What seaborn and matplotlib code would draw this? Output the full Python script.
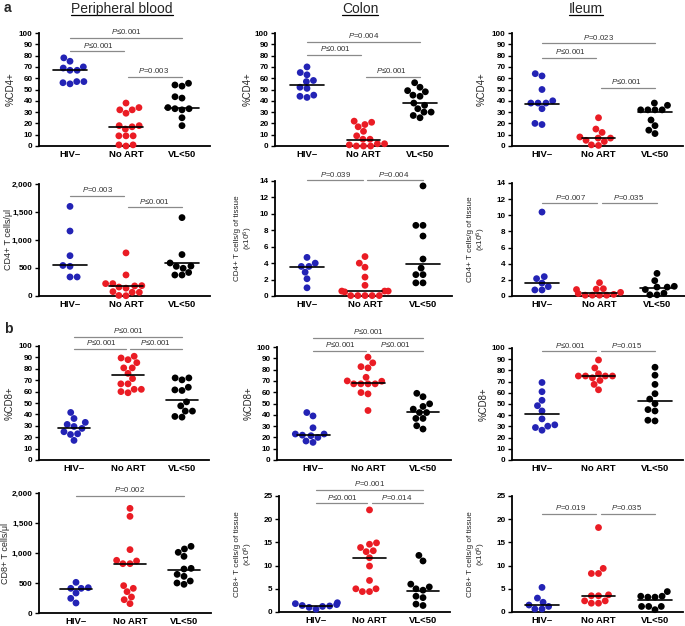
import numpy as np
import pandas as pd
import matplotlib
matplotlib.use("Agg")
import matplotlib.pyplot as plt
import seaborn as sns

# ---------------- data ----------------
groups = ["HIV–", "No ART", "VL<50"]
palette = {"HIV–": "#2323b5", "No ART": "#ea1c24", "VL<50": "#000000"}

cd4_pct_pb = [[78, 75, 70, 67, 67, 69, 57, 55, 56, 57],
              [38, 34, 32, 32, 29, 18, 18, 15, 17, 9, 9, 9, 1, 0, 1],
              [55.5, 53, 54, 43.6, 42.4, 33, 34, 33, 32, 25, 18]]
cd4_pct_pb_med = [67, 17, 34]
cd4_pct_colon = [[70, 65, 63, 58, 57, 52, 51, 45, 43, 44],
                 [21, 22, 17, 19, 13, 9, 6, 6, 2, 2, 1, 0, 0, 0],
                 [56, 52, 49, 48, 45, 44, 38, 36, 33, 30, 30, 27, 25]]
cd4_pct_colon_med = [54.3, 5.6, 38.3]
cd4_pct_ileum = [[64, 62, 50, 40, 38, 38, 38, 33, 20, 19],
                 [25, 15, 12, 8, 7, 7, 5, 4, 1, 0.5],
                 [38, 36, 32, 32, 32, 32, 23, 18, 14, 11]]
cd4_pct_ileum_med = [37.4, 6.8, 30]

cd4_abs_pb = [[1600, 1160, 720, 545, 530, 340, 340],
              [770, 376, 221, 221, 185, 180, 160, 140, 78, 66, 66, 10, 5],
              [1400, 740, 590, 530, 535, 495, 420, 375, 375]]
cd4_abs_pb_med = [558, 173, 595]
cd4_abs_colon = [[4.7, 4.0, 3.6, 3.6, 2.9, 2.1, 1.0],
                 [4.8, 4.0, 3.5, 2.3, 1.3, 0.6, 0.6, 0.6, 0.5, 0.05, 0.05, 0.05, 0.05, 0.05],
                 [13.4, 8.6, 8.6, 7.3, 4.5, 3.4, 2.6, 2.6, 1.6, 1.6]]
cd4_abs_colon_med = [3.55, 0.6, 3.9]
cd4_abs_ileum = [[10.4, 2.4, 2.15, 1.6, 1.16, 0.75, 0.75],
                 [1.65, 0.9, 0.85, 0.8, 0.45, 0.3, 0.2, 0.1, 0.1, 0.1, 0.1],
                 [2.8, 1.9, 1.2, 1.1, 1.1, 0.8, 0.35, 0.15, 0.15]]
cd4_abs_ileum_med = [1.6, 0.33, 1.04]

cd8_pct_pb = [[41.7, 36.4, 33, 29.4, 31.2, 27.7, 24.8, 23, 22.4, 17.2],
              [91, 89.5, 88, 85.4, 80.8, 80.8, 76, 71.4, 66.8, 66.8, 62, 62, 59, 60],
              [72, 72, 70.3, 63.8, 61.5, 61, 51, 47.5, 42.9, 42.9, 37.6, 38.2]]
cd8_pct_pb_med = [28.3, 74.3, 52.2]
cd8_pct_colon = [[42, 39, 28.5, 23, 22, 23, 21.5, 20, 15.6, 16.8],
                 [91, 86, 81.5, 82.6, 73.2, 70, 69.7, 67.4, 67.4, 67.4, 67.4, 59.7, 58.5, 43.8],
                 [59, 56, 49.7, 47.4, 45, 42, 42, 36.8, 36.8, 30.3, 27.4]]
cd8_pct_colon_med = [22, 68.2, 42.6]
cd8_pct_ileum = [[69.2, 61, 53.3, 48.5, 43.8, 36.7, 30.2, 31.4, 29, 26.6],
                 [89.3, 82.2, 77, 75, 75, 75, 75, 73.4, 71, 67.5, 62.7],
                 [82.8, 75.7, 67.5, 59.2, 54.4, 50.3, 45, 43.8, 35.5, 34.9]]
cd8_pct_ileum_med = [41.1, 75, 52.7]

cd8_abs_pb = [[511, 422, 411, 411, 333, 244, 167],
              [1744, 1611, 1056, 867, 878, 822, 822, 456, 411, 356, 267, 222, 156],
              [1111, 1067, 1011, 944, 744, 733, 644, 611, 533, 500, 478]]
cd8_abs_pb_med = [405, 822, 711]
cd8_abs_colon = [[2.0, 1.8, 1.6, 1.4, 1.3, 1.2, 1.0, 0.6],
                 [22, 14.9, 14.6, 13.9, 13.2, 13, 11.7, 9.9, 6.8, 5, 5, 4.4, 4.4],
                 [12.2, 11, 6, 5.4, 5, 4.7, 3.4, 3.1, 1.7, 1.4]]
cd8_abs_colon_med = [1.3, 11.74, 4.5]
cd8_abs_ileum = [[5.3, 3.0, 2.1, 1.5, 1.2, 0.65, 0.65],
                 [18.2, 9.4, 8.3, 8.3, 3.7, 3.5, 3.5, 2.4, 2.4, 1.9, 1.9],
                 [4.4, 3.4, 3.4, 3.2, 3.2, 1.2, 1.2, 1.2, 0.5]]
cd8_abs_ileum_med = [1.5, 3.5, 2.67]

# significance brackets: (group i, group j, height, label)
sig_cd4_pct_pb = [(0, 2, 96, "≤0.001"), (0, 1, 83.7, "≤0.001"), (1, 2, 61, "=0.003")]
sig_cd4_pct_colon = [(0, 2, 92, "=0.004"), (0, 1, 80.4, "≤0.001"), (1, 2, 61, "≤0.001")]
sig_cd4_pct_ileum = [(0, 2, 90.8, "=0.023"), (0, 1, 78, "≤0.001"), (1, 2, 51.6, "≤0.001")]
sig_cd4_abs_pb = [(0, 1, 1791, "=0.003"), (1, 2, 1582, "≤0.001")]
sig_cd4_abs_colon = [(0, 1, 14.1, "=0.039"), (1, 2, 14.1, "=0.004")]
sig_cd4_abs_ileum = [(0, 1, 11.5, "=0.007"), (1, 2, 11.5, "=0.035")]
sig_cd8_pct_pb = [(0, 2, 108, "≤0.001"), (0, 1, 97.7, "≤0.001"), (1, 2, 97.7, "≤0.001")]
sig_cd8_pct_colon = [(0, 2, 108, "≤0.001"), (0, 1, 96.8, "≤0.001"), (1, 2, 96.8, "≤0.001")]
sig_cd8_pct_ileum = [(0, 1, 97, "≤0.001"), (1, 2, 97, "=0.015")]
sig_cd8_abs_pb = [(0, 2, 1956, "=0.002")]
sig_cd8_abs_colon = [(0, 2, 26.4, "=0.001"), (0, 1, 23.4, "≤0.001"), (1, 2, 23.4, "=0.014")]
sig_cd8_abs_ileum = [(0, 1, 21.1, "=0.019"), (1, 2, 21.1, "=0.035")]

ylab_cd4_pct = "%CD4+"
ylab_cd4_abs = "CD4+ T cells/μl"
ylab_cd4_tis = "CD4+ T cells/g of tissue\n(x10$^{6}$)"
ylab_cd8_pct = "%CD8+"
ylab_cd8_abs = "CD8+ T cells/μl"
ylab_cd8_tis = "CD8+ T cells/g of tissue\n(x10$^{6}$)"
titles = ["Peripheral blood", "Colon", "Ileum"]

# ---------------- style ----------------
sns.set_theme(style="ticks")
plt.rcParams["font.family"] = ["Liberation Sans", "DejaVu Sans"]
plt.rcParams["mathtext.fontset"] = "custom"
plt.rcParams["mathtext.it"] = "Liberation Sans:italic"
plt.rcParams["mathtext.rm"] = "Liberation Sans"
plt.rcParams["mathtext.bf"] = "Liberation Sans:bold"

W, H = 685, 626
fig = plt.figure(figsize=(W / 100, H / 100), dpi=100)

# (data, medians, sigs, ylabel, label size, label right edge px, ymax, ystep, comma,
#  axis_left_px, hiv_px, vl_px, y0_px, ytop_px)
panels = [
    (cd4_pct_pb, cd4_pct_pb_med, sig_cd4_pct_pb, ylab_cd4_pct, 6.9, 16, 100, 10, False, 39, 70, 182, 146, 33),
    (cd4_pct_colon, cd4_pct_colon_med, sig_cd4_pct_colon, ylab_cd4_pct, 6.9, 253, 100, 10, False, 275, 307, 420, 146, 33),
    (cd4_pct_ileum, cd4_pct_ileum_med, sig_cd4_pct_ileum, ylab_cd4_pct, 6.9, 487, 100, 10, False, 512, 542, 655, 146, 33),
    (cd4_abs_pb, cd4_abs_pb_med, sig_cd4_abs_pb, ylab_cd4_abs, 6.5, 13, 2000, 500, True, 39, 70, 182, 296, 184),
    (cd4_abs_colon, cd4_abs_colon_med, sig_cd4_abs_colon, ylab_cd4_tis, 5.9, 255, 14, 2, False, 275, 307, 423, 296, 181),
    (cd4_abs_ileum, cd4_abs_ileum_med, sig_cd4_abs_ileum, ylab_cd4_tis, 5.9, 488, 14, 2, False, 512, 542, 657, 296, 183),
    (cd8_pct_pb, cd8_pct_pb_med, sig_cd8_pct_pb, ylab_cd8_pct, 6.9, 15, 100, 10, False, 39, 74, 182, 460, 346),
    (cd8_pct_colon, cd8_pct_colon_med, sig_cd8_pct_colon, ylab_cd8_pct, 6.9, 254, 100, 10, False, 277, 313, 423, 460, 347),
    (cd8_pct_ileum, cd8_pct_ileum_med, sig_cd8_pct_ileum, ylab_cd8_pct, 6.9, 489, 100, 10, False, 512, 542, 655, 460, 348),
    (cd8_abs_pb, cd8_abs_pb_med, sig_cd8_abs_pb, ylab_cd8_abs, 6.5, 10, 2000, 500, True, 39, 76, 184, 613, 493),
    (cd8_abs_colon, cd8_abs_colon_med, sig_cd8_abs_colon, ylab_cd8_tis, 5.9, 255, 25, 5, False, 279, 316, 423, 612, 496),
    (cd8_abs_ileum, cd8_abs_ileum_med, sig_cd8_abs_ileum, ylab_cd8_tis, 5.9, 488, 25, 5, False, 512, 542, 655, 612, 496),
]

for (vals, meds, sigs, ylab, lsize, lright, ymax, ystep, comma, axl, hivx, vlx, y0, ytop) in panels:
    s = (vlx - hivx) / 2.0
    xl = -(hivx - axl) / s
    xr = 2.5
    wpx = (xr - xl) * s
    ax = fig.add_axes([axl / W, 1 - y0 / H, wpx / W, (y0 - ytop) / H])
    df = pd.DataFrame({
        "group": np.repeat(groups, [len(v) for v in vals]),
        "value": np.concatenate([np.asarray(v, float) for v in vals]),
    })
    ax.set_xlim(xl, xr)
    ax.set_ylim(0, ymax)
    sns.swarmplot(data=df, x="group", y="value", hue="group", order=groups,
                  palette=palette, size=4.9, legend=False, ax=ax, linewidth=0)
    for c in ax.collections:
        c.set_clip_on(False)
    ax.set_xlim(xl, xr)
    ax.set_ylim(0, ymax)
    for i, m in enumerate(meds):
        ax.plot([i - 0.3, i + 0.3], [m, m], color="black", lw=1.2, zorder=5, clip_on=False)
    for (i, j, yy, lab) in sigs:
        gap = 0.04 if (j - i) == 1 else 0.0
        ax.plot([i + (gap if i > 0 else 0), j - (gap if j < 2 else 0)], [yy, yy],
                color="#8a8a8a", lw=0.9, clip_on=False)
        ax.annotate("$P$" + lab, xy=((i + j) / 2, yy), xytext=(0, 1.2),
                    textcoords="offset points", ha="center", va="bottom",
                    fontsize=5.7, color="#333333", annotation_clip=False)
    ticks = np.arange(0, ymax + ystep / 2, ystep)
    ax.set_yticks(ticks)
    if comma:
        ax.set_yticklabels([f"{int(t):,}" for t in ticks])
    else:
        ax.set_yticklabels([f"{int(t)}" for t in ticks])
    ax.set_xticks([0, 1, 2])
    ax.set_xticklabels(groups)
    for t in ax.get_yticklabels():
        t.set_fontweight("bold")
        t.set_fontsize(5.9)
    for t in ax.get_xticklabels():
        t.set_fontweight("bold")
        t.set_fontsize(6.8)
    ax.tick_params(axis="y", direction="out", length=3, width=1, pad=1.5, colors="black")
    ax.tick_params(axis="x", length=0, pad=3, colors="black")
    ax.set_xlabel("")
    ax.set_ylabel(ylab, fontsize=lsize, linespacing=1.1)
    ax.yaxis.set_label_coords((lright - axl) / wpx, 0.5)
    for sp in ["top", "right"]:
        ax.spines[sp].set_visible(False)
    for sp in ["left", "bottom"]:
        ax.spines[sp].set_linewidth(1.3)
        ax.spines[sp].set_color("black")
    ax.patch.set_alpha(0)

# titles and panel letters
title_x = [122, 360, 586]
title_objs = []
for tx, tt in zip(title_x, titles):
    title_objs.append(fig.text(tx / W, 1 - 13 / H, tt, ha="center", va="baseline",
                               fontsize=10))
fig.text(4 / W, 1 - 12 / H, "a", fontsize=10, fontweight="bold", va="baseline")
fig.text(4 / W, 1 - 333 / H, "b", fontsize=10, fontweight="bold", va="baseline")

fig.canvas.draw()
r = fig.canvas.get_renderer()
for t in title_objs:
    bb = t.get_window_extent(renderer=r)
    fig.add_artist(plt.Line2D([bb.x0 / W, bb.x1 / W], [1 - 15 / H, 1 - 15 / H],
                              color="black", lw=0.9, transform=fig.transFigure))

fig.savefig("out.png", dpi=100)
